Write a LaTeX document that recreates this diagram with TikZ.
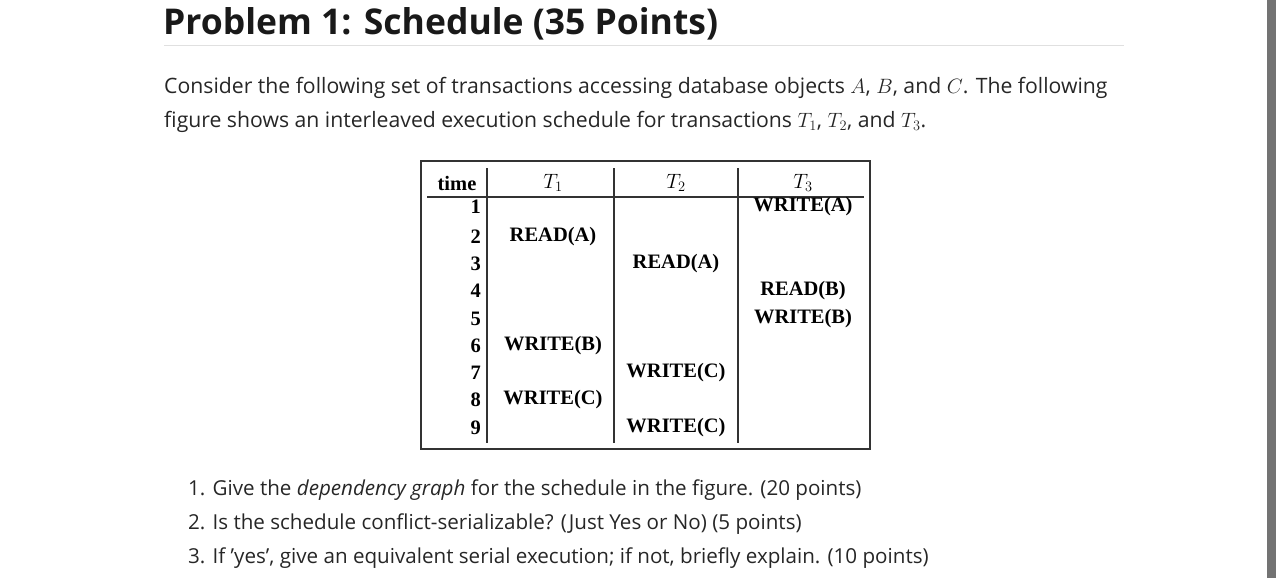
\documentclass[tikz,border=0pt]{standalone}
\usepackage{fontspec}
\setmainfont{Open Sans}
\newfontfamily\tabfont{Liberation Serif}
\begin{document}
\begin{tikzpicture}[x=1pt,y=-1pt,
  body/.style={anchor=base west,inner sep=0pt,font=\fontsize{21.2}{24}\selectfont,text=black!85},
  cell/.style={inner sep=0pt,font=\tabfont\bfseries\fontsize{20.5}{22}\selectfont},
  num/.style={cell,anchor=east},
  rule/.style={line width=1.2pt,black!80}]
\useasboundingbox (0,0) rectangle (1284,578);
\fill[black!55] (1267,0) rectangle (1276,578);
\node[anchor=west,inner sep=0pt,font=\bfseries\fontsize{35.5}{40}\selectfont,text=black!90] (h) at (163,24) {Problem 1: Schedule (35 Points)};
\draw[black!12,line width=1pt] (164,46) -- (1124,46);
\node[body] (p1) at (164,93) {Consider the following set of transactions accessing database objects $A$, $B$, and $C$. The following};
\node[body] (p2) at (164,127) {figure shows an interleaved execution schedule for transactions $T_1$, $T_2$, and $T_3$.};
% table
\draw[rule] (421,161) rectangle (870,449);
\draw[rule] (427,197) -- (864,197);
\foreach \x in {487,614,738} \draw[rule] (\x,168) -- (\x,443);
\node[cell] (ht) at (457,183) {time};
\node[cell] (h1) at (553,183) {$T_1$};
\node[cell] (h2) at (676,183) {$T_2$};
\node[cell] (h3) at (803,183) {$T_3$};
\foreach \n/\y in {1/207,2/237,3/264,4/291,5/319,6/346,7/373,8/400,9/428}
  \node[num] (n\n) at (481,\y) {\n};
\node[cell] (a1) at (803,207) {WRITE(A)};
\node[cell] (a2) at (553,237) {READ(A)};
\node[cell] (a3) at (676,264) {READ(A)};
\node[cell] (a4) at (803,291) {READ(B)};
\node[cell] (a5) at (803,319) {WRITE(B)};
\node[cell] (a6) at (553,346) {WRITE(B)};
\node[cell] (a7) at (676,373) {WRITE(C)};
\node[cell] (a8) at (553,400) {WRITE(C)};
\node[cell] (a9) at (676,428) {WRITE(C)};
\node[body,font=\fontsize{20.6}{24}\selectfont] (q1) at (188,495) {1. Give the \emph{dependency graph} for the schedule in the figure. (20 points)};
\node[body,font=\fontsize{20.6}{24}\selectfont] (q2) at (188,529) {2. Is the schedule conflict-serializable? (Just Yes or No) (5 points)};
\node[body,font=\fontsize{20.6}{24}\selectfont] (q3) at (188,563) {3. If 'yes', give an equivalent serial execution; if not, briefly explain. (10 points)};
\end{tikzpicture}
\end{document}
